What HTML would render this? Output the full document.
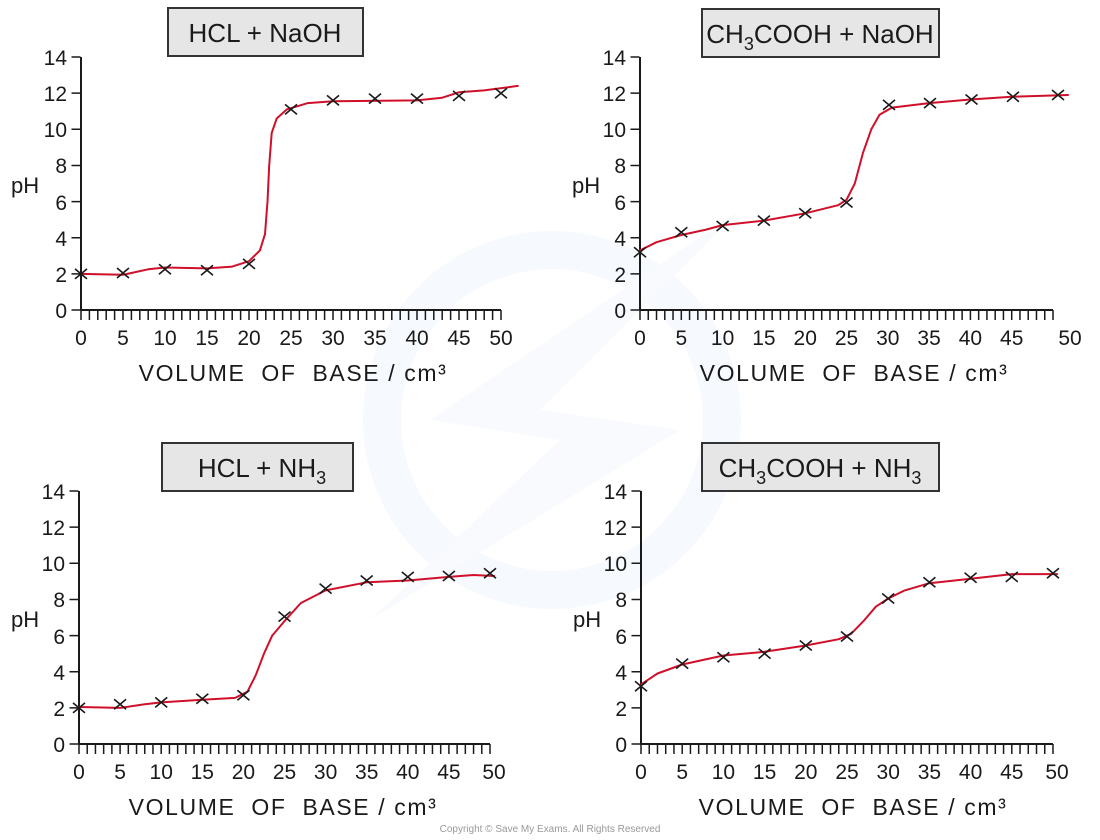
<!DOCTYPE html>
<html><head><meta charset="utf-8"><style>
html,body{margin:0;padding:0;background:#fff;}
svg{display:block;}
text{font-family:"Liberation Sans",sans-serif;fill:#1a1a1a;}
.tl{font-size:21px;text-anchor:end;}
.xl{font-size:21px;text-anchor:middle;}
.at{font-size:23px;text-anchor:middle;letter-spacing:1.6px;}
.ti{font-size:26px;text-anchor:middle;}
.cv{fill:none;stroke:#d0102a;stroke-width:2;stroke-linejoin:round;stroke-linecap:round;}
.ax{stroke:#1a1a1a;stroke-width:2;fill:none;}
.mk{stroke:#1a1a1a;stroke-width:1.6;fill:none;}
</style></head><body>
<svg width="1100" height="840" viewBox="0 0 1100 840" xmlns="http://www.w3.org/2000/svg">
<defs>
<path id="m" d="M-6,-5L6,5M-6,5L6,-5" class="mk"/>
</defs>
<circle cx="552" cy="420" r="170" fill="none" stroke="#f6f9fd" stroke-width="38"/>
<path d="M740,210 L430,420 L560,440 L370,620 L680,430 L540,410 Z" fill="#f8fafd"/>

<!-- TL -->
<rect x="168" y="8" width="195" height="48" fill="#e6e6e6" stroke="#333" stroke-width="2"/>
<text class="ti" x="265" y="42">HCL + NaOH</text>
<g transform="translate(81,310)">
<path class="ax" d="M0,0V-253M0,0H420"/>
<line x1="-0.75" y1="5" x2="421" y2="5" stroke="#1a1a1a" stroke-width="10" stroke-dasharray="1.5 6.9"/>
<line x1="-5" y1="0.75" x2="-5" y2="-254" stroke="#1a1a1a" stroke-width="9" stroke-dasharray="1.5 34.64"/>
<g class="tl"><text x="-14" y="8">0</text><text x="-14" y="-28">2</text><text x="-14" y="-64">4</text><text x="-14" y="-100">6</text><text x="-14" y="-137">8</text><text x="-14" y="-173">10</text><text x="-14" y="-209">12</text><text x="-14" y="-245">14</text></g>
<g class="xl"><text x="0" y="35">0</text><text x="42" y="35">5</text><text x="84" y="35">10</text><text x="126" y="35">15</text><text x="168" y="35">20</text><text x="210" y="35">25</text><text x="252" y="35">30</text><text x="294" y="35">35</text><text x="336" y="35">40</text><text x="378" y="35">45</text><text x="420" y="35">50</text></g>
<text x="-70" y="-117" style="font-size:22px">pH</text>
<text class="at" x="212" y="71">VOLUME&#160; OF&#160; BASE / cm³</text>
<polyline class="cv" points="0,-36.1 42,-35.2 67.2,-40.7 84,-42.5 126,-41.6 151.2,-43.4 168,-48.8 178.9,-59.6 184,-75.9 186.5,-108.4 188.2,-144.6 190.7,-177.1 195.7,-191.5 205.8,-200.6 226.8,-206.9 252,-208.7 336,-209.6 361.2,-212.3 378,-217.7 403.2,-219.6 436.8,-224.1"/>
<use href="#m" x="0" y="-36.1"/><use href="#m" x="42" y="-37"/><use href="#m" x="84" y="-40.7"/><use href="#m" x="126" y="-39.8"/><use href="#m" x="168" y="-46.1"/><use href="#m" x="210" y="-200.6"/><use href="#m" x="252" y="-209.6"/><use href="#m" x="294" y="-211.4"/><use href="#m" x="336" y="-211.4"/><use href="#m" x="378" y="-214.1"/><use href="#m" x="420" y="-216.8"/>
</g>

<!-- TR -->
<rect x="702" y="9" width="237" height="48" fill="#e6e6e6" stroke="#333" stroke-width="2"/>
<text class="ti" x="820" y="43">CH<tspan dy="7" font-size="18">3</tspan><tspan dy="-7">COOH + NaOH</tspan></text>
<g transform="translate(640,310)">
<path class="ax" d="M0,0V-253M0,0H413"/>
<line x1="-0.75" y1="5" x2="414" y2="5" stroke="#1a1a1a" stroke-width="10" stroke-dasharray="1.5 6.76"/>
<line x1="-5" y1="0.75" x2="-5" y2="-254" stroke="#1a1a1a" stroke-width="9" stroke-dasharray="1.5 34.64"/>
<g class="tl"><text x="-14" y="8">0</text><text x="-14" y="-28">2</text><text x="-14" y="-64">4</text><text x="-14" y="-100">6</text><text x="-14" y="-137">8</text><text x="-14" y="-173">10</text><text x="-14" y="-209">12</text><text x="-14" y="-245">14</text></g>
<g class="xl"><text x="0" y="35">0</text><text x="41.3" y="35">5</text><text x="82.6" y="35">10</text><text x="123.9" y="35">15</text><text x="165.2" y="35">20</text><text x="206.5" y="35">25</text><text x="247.8" y="35">30</text><text x="289.1" y="35">35</text><text x="330.4" y="35">40</text><text x="371.7" y="35">45</text><text x="430" y="35">50</text></g>
<text x="-68" y="-117" style="font-size:22px">pH</text>
<text class="at" x="214" y="71">VOLUME&#160; OF&#160; BASE / cm³</text>
<polyline class="cv" points="0,-59.6 16.5,-67.8 41.3,-75 66.1,-80.4 82.6,-84.9 123.9,-89.4 165.2,-96.7 198.2,-104.8 206.5,-110.2 214.8,-126.5 223,-157.2 231.3,-180.7 239.5,-195.2 251.9,-202.4 289.1,-206.9 330.4,-210.5 371.7,-213.2 428,-215"/>
<use href="#m" x="0" y="-57.8"/><use href="#m" x="41.3" y="-77.7"/><use href="#m" x="82.6" y="-84"/><use href="#m" x="123.9" y="-89.4"/><use href="#m" x="165.2" y="-96.7"/><use href="#m" x="206.5" y="-107.5"/><use href="#m" x="249" y="-205.1"/><use href="#m" x="290" y="-206.9"/><use href="#m" x="331.5" y="-210.5"/><use href="#m" x="373" y="-213.2"/><use href="#m" x="418" y="-215"/>
</g>

<!-- BL -->
<rect x="162" y="443" width="191" height="48" fill="#e6e6e6" stroke="#333" stroke-width="2"/>
<text class="ti" x="262" y="477">HCL + NH<tspan dy="7" font-size="18">3</tspan></text>
<g transform="translate(79,744)">
<path class="ax" d="M0,0V-253M0,0H411"/>
<line x1="-0.75" y1="5" x2="412" y2="5" stroke="#1a1a1a" stroke-width="10" stroke-dasharray="1.5 6.72"/>
<line x1="-5" y1="0.75" x2="-5" y2="-254" stroke="#1a1a1a" stroke-width="9" stroke-dasharray="1.5 34.64"/>
<g class="tl"><text x="-14" y="8">0</text><text x="-14" y="-28">2</text><text x="-14" y="-64">4</text><text x="-14" y="-100">6</text><text x="-14" y="-137">8</text><text x="-14" y="-173">10</text><text x="-14" y="-209">12</text><text x="-14" y="-245">14</text></g>
<g class="xl"><text x="0" y="35">0</text><text x="41.1" y="35">5</text><text x="82.2" y="35">10</text><text x="123.3" y="35">15</text><text x="164.4" y="35">20</text><text x="205.5" y="35">25</text><text x="246.6" y="35">30</text><text x="287.7" y="35">35</text><text x="328.8" y="35">40</text><text x="369.9" y="35">45</text><text x="415" y="35">50</text></g>
<text x="-68" y="-117" style="font-size:22px">pH</text>
<text class="at" x="204" y="71">VOLUME&#160; OF&#160; BASE / cm³</text>
<polyline class="cv" points="0,-37 41.1,-36.1 65.8,-39.8 82.2,-41.6 123.3,-44.3 156.2,-46.1 168.5,-52.4 176.7,-68.7 185,-90.4 193.2,-108.4 205.5,-122.9 221.9,-141 246.6,-153.6 287.7,-161.7 328.8,-163.5 369.9,-167.1 394.6,-169 415.1,-168"/>
<use href="#m" x="0" y="-36.1"/><use href="#m" x="41.1" y="-39.8"/><use href="#m" x="82.2" y="-41.6"/><use href="#m" x="123.3" y="-45.2"/><use href="#m" x="164.4" y="-48.8"/><use href="#m" x="205.5" y="-127.4"/><use href="#m" x="246.6" y="-155.4"/><use href="#m" x="287.7" y="-163.5"/><use href="#m" x="328.8" y="-167.1"/><use href="#m" x="369.9" y="-168"/><use href="#m" x="411" y="-170.8"/>
</g>

<!-- BR -->
<rect x="702" y="443" width="237" height="48" fill="#e6e6e6" stroke="#333" stroke-width="2"/>
<text class="ti" x="820" y="477">CH<tspan dy="7" font-size="18">3</tspan><tspan dy="-7">COOH + NH</tspan><tspan dy="7" font-size="18">3</tspan></text>
<g transform="translate(641,744)">
<path class="ax" d="M0,0V-253M0,0H412"/>
<line x1="-0.75" y1="5" x2="413" y2="5" stroke="#1a1a1a" stroke-width="10" stroke-dasharray="1.5 6.74"/>
<line x1="-5" y1="0.75" x2="-5" y2="-254" stroke="#1a1a1a" stroke-width="9" stroke-dasharray="1.5 34.64"/>
<g class="tl"><text x="-14" y="8">0</text><text x="-14" y="-28">2</text><text x="-14" y="-64">4</text><text x="-14" y="-100">6</text><text x="-14" y="-137">8</text><text x="-14" y="-173">10</text><text x="-14" y="-209">12</text><text x="-14" y="-245">14</text></g>
<g class="xl"><text x="0" y="35">0</text><text x="41.2" y="35">5</text><text x="82.4" y="35">10</text><text x="123.6" y="35">15</text><text x="164.8" y="35">20</text><text x="206" y="35">25</text><text x="247.2" y="35">30</text><text x="288.4" y="35">35</text><text x="329.6" y="35">40</text><text x="370.8" y="35">45</text><text x="416" y="35">50</text></g>
<text x="-68" y="-117" style="font-size:22px">pH</text>
<text class="at" x="212" y="71">VOLUME&#160; OF&#160; BASE / cm³</text>
<polyline class="cv" points="0,-59.6 16.5,-70.5 41.2,-79.5 82.4,-88.5 123.6,-92.2 164.8,-98.5 197.8,-104.8 210.1,-110.2 222.5,-122.9 234.8,-137.3 247.2,-145.5 263.7,-153.6 288.4,-160.8 329.6,-165.3 370.8,-169.9 416.1,-169.9"/>
<use href="#m" x="0" y="-57.8"/><use href="#m" x="41.2" y="-80.4"/><use href="#m" x="82.4" y="-86.7"/><use href="#m" x="123.6" y="-90.4"/><use href="#m" x="164.8" y="-98.5"/><use href="#m" x="206" y="-107.5"/><use href="#m" x="247.2" y="-145.5"/><use href="#m" x="288.4" y="-161.7"/><use href="#m" x="329.6" y="-166.2"/><use href="#m" x="370.8" y="-167.1"/><use href="#m" x="412" y="-170.8"/>
</g>

<text x="550" y="832" style="font-size:10px;fill:#999;text-anchor:middle">Copyright © Save My Exams. All Rights Reserved</text>
</svg>
</body></html>
